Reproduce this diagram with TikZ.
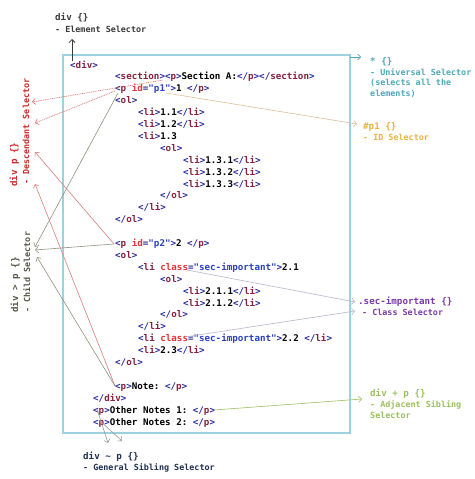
\documentclass[tikz,border=0pt]{standalone}
\usepackage{fontspec}
\setmonofont{DejaVu Sans Mono}
\usetikzlibrary{arrows.meta}
\definecolor{cdel}{HTML}{2A2A9A}
\definecolor{cname}{HTML}{8A1F3F}
\definecolor{cattr}{HTML}{E03535}
\definecolor{cval}{HTML}{2A40C0}
\definecolor{boxc}{HTML}{9CD2E0}
\definecolor{elemc}{HTML}{3A3A3A}
\definecolor{univc}{HTML}{4FA8B8}
\definecolor{idc}{HTML}{E8B440}
\definecolor{idl}{HTML}{E2BE98}
\definecolor{classc}{HTML}{7A3AA8}
\definecolor{classl}{HTML}{BDB2CC}
\definecolor{adjc}{HTML}{9CC060}
\definecolor{genc}{HTML}{1F3050}
\definecolor{genl}{HTML}{9A9A9A}
\definecolor{descc}{HTML}{CC2A2A}
\definecolor{descl}{HTML}{D98080}
\definecolor{childc}{HTML}{555548}
\definecolor{childl}{HTML}{8E9482}
\newcommand\Dl[1]{\textcolor{cdel}{#1}}
\newcommand\Nm[1]{\textcolor{cname}{#1}}
\newcommand\At[1]{\textcolor{cattr}{#1}}
\newcommand\Vl[1]{\textcolor{cval}{#1}}
\newcommand\ot[1]{\Dl{<}\Nm{#1}\Dl{>}}
\newcommand\ct[1]{\Dl{</}\Nm{#1}\Dl{>}}
\tikzset{
  code/.style={anchor=base west, inner sep=0pt, font=\ttfamily\bfseries\fontsize{9.2}{11}\selectfont, text=black},
  sel/.style={anchor=base west, inner sep=0pt, font=\ttfamily\bfseries\fontsize{9.2}{11}\selectfont},
  desc/.style={anchor=base west, inner sep=0pt, font=\ttfamily\bfseries\fontsize{8.4}{10}\selectfont},
  conn/.style={line width=0.6pt, -{Straight Barb[length=3pt,width=6pt]}},
}
\begin{document}
\begin{tikzpicture}[x=1pt,y=-1pt]
\useasboundingbox (0,0) rectangle (474,479);
\fill[white] (0,0) rectangle (474,479);
\draw[boxc, line width=1.2pt] (63,55) rectangle (350,433);
% code lines: baseline = 68 + 11.9 i
\def\LY#1{68+11.9*#1}
\node[code] (L0)  at (70,{\LY{0}}) {\ot{div}};
\node[code] (L1)  at (115,{\LY{1}}) {\ot{section}\ot{p}Section A:\ct{p}\ct{section}};
\node[code] (L2)  at (115,{\LY{2}}) {\Dl{<}\Nm{p} \At{id}\Dl{=}\Vl{"p1"}\Dl{>}1 \ct{p}};
\node[code] (L3)  at (115,{\LY{3}}) {\ot{ol}};
\node[code] (L4)  at (138,{\LY{4}}) {\ot{li}1.1\ct{li}};
\node[code] (L5)  at (138,{\LY{5}}) {\ot{li}1.2\ct{li}};
\node[code] (L6)  at (138,{\LY{6}}) {\ot{li}1.3};
\node[code] (L7)  at (160,{\LY{7}}) {\ot{ol}};
\node[code] (L8)  at (183,{\LY{8}}) {\ot{li}1.3.1\ct{li}};
\node[code] (L9)  at (183,{\LY{9}}) {\ot{li}1.3.2\ct{li}};
\node[code] (L10) at (183,{\LY{10}}) {\ot{li}1.3.3\ct{li}};
\node[code] (L11) at (160,{\LY{11}}) {\ct{ol}};
\node[code] (L12) at (138,{\LY{12}}) {\ct{li}};
\node[code] (L13) at (115,{\LY{13}}) {\ct{ol}};
\node[code] (L15) at (115,{\LY{15}}) {\Dl{<}\Nm{p} \At{id}\Dl{=}\Vl{"p2"}\Dl{>}2 \ct{p}};
\node[code] (L16) at (115,{\LY{16}}) {\ot{ol}};
\node[code] (L17) at (138,{\LY{17}}) {\Dl{<}\Nm{li} \At{class}\Dl{=}\Vl{"sec-important"}\Dl{>}2.1};
\node[code] (L18) at (160,{\LY{18}}) {\ot{ol}};
\node[code] (L19) at (183,{\LY{19}}) {\ot{li}2.1.1\ct{li}};
\node[code] (L20) at (183,{\LY{20}}) {\ot{li}2.1.2\ct{li}};
\node[code] (L21) at (160,{\LY{21}}) {\ct{ol}};
\node[code] (L22) at (138,{\LY{22}}) {\ct{li}};
\node[code] (L23) at (138,{\LY{23}}) {\Dl{<}\Nm{li} \At{class}\Dl{=}\Vl{"sec-important"}\Dl{>}2.2 \ct{li}};
\node[code] (L24) at (138,{\LY{24}}) {\ot{li}2.3\ct{li}};
\node[code] (L25) at (115,{\LY{25}}) {\ct{ol}};
\node[code] (L27) at (115,{\LY{27}}) {\ot{p}Note: \ct{p}};
\node[code] (L28) at (93,{\LY{28}}) {\ct{div}};
\node[code] (L29) at (93,{\LY{29}}) {\ot{p}Other Notes 1: \ct{p}};
\node[code] (L30) at (93,{\LY{30}}) {\ot{p}Other Notes 2: \ct{p}};
% labels
\node[sel, text=elemc] (elem) at (55,20) {div \{\}};
\node[desc, text=elemc] (elemd) at (55,32) {- Element Selector};
\node[sel, text=univc] (univ) at (370,64) {* \{\}};
\node[desc, text=univc] (univd1) at (370,75) {- Universal Selector};
\node[desc, text=univc] (univd2) at (370,85.5) {(selects all the};
\node[desc, text=univc] (univd3) at (370,96) {elements)};
\node[sel, text=idc] (idl) at (363,129) {\#p1 \{\}};
\node[desc, text=idc] (idd) at (363,140) {- ID Selector};
\node[sel, text=classc] (cls) at (358,304) {.sec-important \{\}};
\node[desc, text=classc] (clsd) at (362,315) {- Class Selector};
\node[sel, text=adjc] (adj) at (370,396) {div + p \{\}};
\node[desc, text=adjc] (adjd1) at (370,407) {- Adjacent Sibling};
\node[desc, text=adjc] (adjd2) at (370,418) {Selector};
\node[sel, text=genc] (gen) at (83,459) {div \char`\~{} p \{\}};
\node[desc, text=genc] (gend) at (83,470) {- General Sibling Selector};
\node[sel, text=descc, rotate=90] (desc) at (17,187) {div p \{\}};
\node[desc, text=descc, rotate=90] (descd) at (29,185) {- Descendant Selector};
\node[sel, text=childc, rotate=90] (child) at (18,313) {div > p \{\}};
\node[desc, text=childc, rotate=90] (childd) at (30,313) {- Child Selector};
% connector end points
\coordinate (divtop) at (72,61);
\coordinate (elemtip) at (72,39);
\coordinate (corner) at (350,57);
\coordinate (univtip) at (361,57);
\coordinate (p1id) at (166,93);
\coordinate (idtip) at (357,124);
\coordinate (c21) at (187,270);
\coordinate (c22) at (185,337);
\coordinate (clstip1) at (355,302);
\coordinate (clstip2) at (355,311);
\coordinate (on1end) at (214,410);
\coordinate (adjtip) at (362,399);
\coordinate (on1p) at (97,409);
\coordinate (on2p) at (99,420);
\coordinate (gentip1) at (108,443);
\coordinate (gentip2) at (122,441);
\coordinate (secp) at (163,80);
\coordinate (p1p) at (115,91);
\coordinate (p1o) at (118,93);
\coordinate (p2p) at (114,244);
\coordinate (notep) at (115,386);
\coordinate (dtip1) at (32,102);
\coordinate (dtip2) at (35,123);
\coordinate (dtip3) at (35,152);
\coordinate (dtip4) at (35,184);
\coordinate (ctip1) at (35,247);
\coordinate (ctip2) at (35,250);
\coordinate (ctip3) at (37,257);
% connectors
\draw[conn, elemc, line width=0.8pt] (divtop) -- (elemtip);
\draw[conn, univc] (corner) -- (univtip);
\draw[conn, idl] (p1id) -- (idtip);
\draw[conn, classl] (c21) -- (clstip1);
\draw[conn, classl] (c22) -- (clstip2);
\draw[conn, adjc] (on1end) -- (adjtip);
\draw[conn, genl] (on1p) -- (gentip1);
\draw[conn, genl] (on2p) -- (gentip2);
\draw[conn, descc!70, dash pattern=on 1pt off 0.8pt] (secp) -- (dtip1);
\draw[conn, descc!70, dash pattern=on 1pt off 0.8pt] (p1p) -- (dtip2);
\draw[conn, descl] (p2p) -- (dtip3);
\draw[conn, descl] (notep) -- (dtip4);
\draw[conn, childl] (p1o) -- (ctip1);
\draw[conn, childl] (p2p) -- (ctip2);
\draw[conn, childl] (notep) -- (ctip3);
\end{tikzpicture}
\end{document}
